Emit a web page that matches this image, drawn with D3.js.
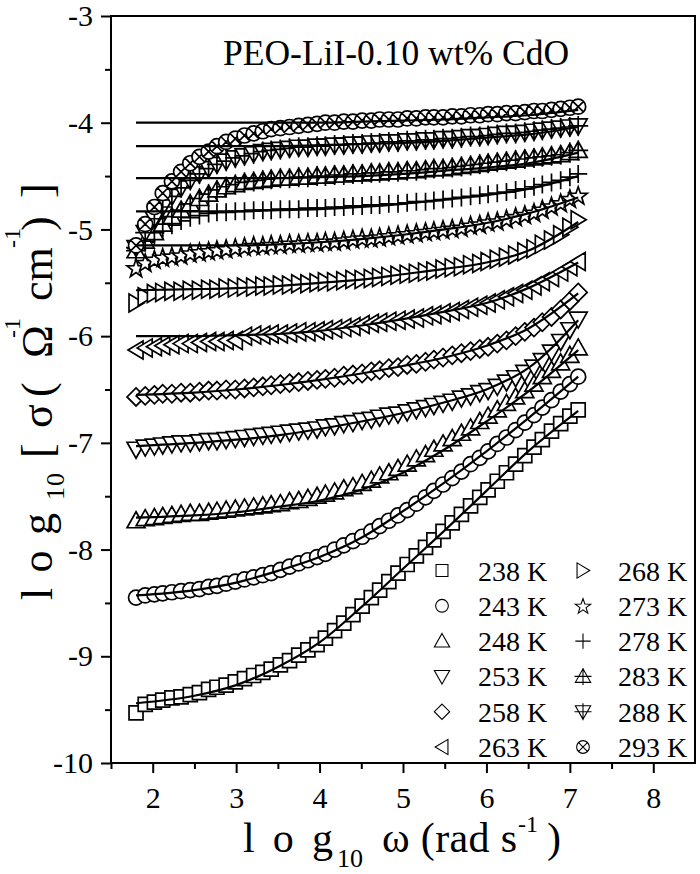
<!DOCTYPE html>
<html>
<head>
<meta charset="utf-8">
<script src="https://cdn.jsdelivr.net/npm/d3@7"></script>
<style>
  body { margin: 0; background: #fff; }
  svg { display: block; }
  text { font-family: "Liberation Serif", "Times New Roman", serif; fill: #000; }
</style>
</head>
<body>
<svg width="700" height="874"></svg>
<script>
// log10(omega) of each measured point
var logW = [1.80, 1.91, 2.02, 2.12, 2.23, 2.34, 2.45, 2.56, 2.67, 2.77,
            2.88, 2.99, 3.10, 3.21, 3.32, 3.42, 3.53, 3.64, 3.75, 3.86,
            3.97, 4.07, 4.18, 4.29, 4.40, 4.51, 4.62, 4.72, 4.83, 4.94,
            5.05, 5.16, 5.27, 5.37, 5.48, 5.59, 5.70, 5.81, 5.92, 6.02,
            6.13, 6.24, 6.35, 6.46, 6.57, 6.67, 6.78, 6.89, 7.00, 7.10];

var temps = ["238 K", "243 K", "248 K", "253 K", "258 K", "263 K",
             "268 K", "273 K", "278 K", "283 K", "288 K", "293 K"];
var shapes = ["square", "circle", "up", "down", "diamond", "left",
              "right", "star", "plus", "upplus", "downplus", "circlex"];

var s238 = [-9.53,-9.45,-9.43,-9.41,-9.39,-9.38,-9.36,-9.34,-9.31,-9.29,-9.27,-9.24,-9.21,-9.18,-9.15,-9.12,-9.08,-9.04,-8.99,-8.94,-8.89,-8.83,-8.76,-8.69,-8.61,-8.53,-8.45,-8.38,-8.30,-8.22,-8.14,-8.06,-7.98,-7.91,-7.83,-7.75,-7.67,-7.59,-7.51,-7.44,-7.36,-7.28,-7.20,-7.12,-7.04,-6.97,-6.89,-6.82,-6.75,-6.69];
var s243 = [-8.45,-8.43,-8.42,-8.41,-8.40,-8.39,-8.38,-8.37,-8.35,-8.34,-8.32,-8.30,-8.28,-8.26,-8.24,-8.22,-8.19,-8.16,-8.13,-8.10,-8.07,-8.04,-8.00,-7.96,-7.92,-7.88,-7.83,-7.78,-7.73,-7.68,-7.63,-7.57,-7.51,-7.45,-7.39,-7.33,-7.27,-7.20,-7.14,-7.08,-7.01,-6.95,-6.88,-6.81,-6.74,-6.67,-6.60,-6.52,-6.45,-6.38];
var s248 = [-7.73,-7.71,-7.70,-7.69,-7.68,-7.67,-7.66,-7.66,-7.65,-7.64,-7.63,-7.62,-7.61,-7.60,-7.59,-7.58,-7.57,-7.55,-7.54,-7.52,-7.50,-7.48,-7.46,-7.43,-7.41,-7.38,-7.35,-7.31,-7.28,-7.24,-7.20,-7.15,-7.11,-7.06,-7.01,-6.96,-6.91,-6.86,-6.80,-6.75,-6.69,-6.63,-6.57,-6.51,-6.45,-6.38,-6.32,-6.25,-6.18,-6.11];
var s253 = [-7.06,-7.04,-7.03,-7.02,-7.01,-7.00,-7.00,-6.99,-6.98,-6.98,-6.97,-6.96,-6.95,-6.94,-6.93,-6.92,-6.91,-6.90,-6.89,-6.88,-6.87,-6.85,-6.84,-6.82,-6.81,-6.79,-6.78,-6.76,-6.74,-6.73,-6.71,-6.69,-6.67,-6.65,-6.63,-6.61,-6.58,-6.56,-6.53,-6.51,-6.47,-6.43,-6.39,-6.34,-6.29,-6.23,-6.15,-6.05,-5.94,-5.84];
var s258 = [-6.57,-6.56,-6.55,-6.54,-6.54,-6.53,-6.53,-6.52,-6.51,-6.51,-6.50,-6.50,-6.49,-6.48,-6.47,-6.46,-6.45,-6.44,-6.43,-6.42,-6.41,-6.40,-6.39,-6.37,-6.36,-6.35,-6.33,-6.32,-6.30,-6.29,-6.27,-6.26,-6.24,-6.22,-6.20,-6.18,-6.16,-6.14,-6.12,-6.10,-6.07,-6.04,-6.00,-5.96,-5.92,-5.87,-5.82,-5.75,-5.67,-5.59];
var s263 = [-6.13,-6.11,-6.10,-6.09,-6.08,-6.07,-6.07,-6.06,-6.05,-6.05,-6.04,-6.04,-6.00,-5.99,-5.99,-5.98,-5.98,-5.97,-5.96,-5.96,-5.95,-5.94,-5.93,-5.92,-5.91,-5.89,-5.88,-5.87,-5.86,-5.85,-5.84,-5.83,-5.81,-5.80,-5.78,-5.77,-5.75,-5.73,-5.71,-5.69,-5.66,-5.63,-5.60,-5.57,-5.53,-5.49,-5.45,-5.40,-5.35,-5.30];
var s268 = [-5.69,-5.63,-5.60,-5.59,-5.58,-5.58,-5.57,-5.57,-5.56,-5.56,-5.55,-5.55,-5.54,-5.54,-5.53,-5.53,-5.52,-5.52,-5.51,-5.51,-5.50,-5.49,-5.49,-5.48,-5.47,-5.47,-5.46,-5.45,-5.44,-5.43,-5.42,-5.41,-5.40,-5.39,-5.37,-5.36,-5.35,-5.33,-5.32,-5.30,-5.28,-5.26,-5.24,-5.21,-5.18,-5.14,-5.10,-5.05,-4.98,-4.91];
var s273 = [-5.36,-5.31,-5.28,-5.26,-5.25,-5.24,-5.22,-5.21,-5.20,-5.19,-5.18,-5.17,-5.16,-5.15,-5.15,-5.14,-5.14,-5.13,-5.13,-5.12,-5.12,-5.11,-5.11,-5.10,-5.09,-5.08,-5.08,-5.07,-5.06,-5.05,-5.04,-5.03,-5.02,-5.01,-5.00,-4.99,-4.98,-4.96,-4.95,-4.93,-4.92,-4.90,-4.88,-4.86,-4.84,-4.81,-4.78,-4.75,-4.71,-4.68];
var s278 = [-5.18,-5.12,-5.06,-5.01,-4.96,-4.92,-4.89,-4.87,-4.85,-4.84,-4.84,-4.83,-4.83,-4.82,-4.82,-4.82,-4.81,-4.81,-4.81,-4.80,-4.80,-4.80,-4.79,-4.79,-4.78,-4.78,-4.77,-4.77,-4.76,-4.76,-4.75,-4.74,-4.74,-4.73,-4.72,-4.71,-4.70,-4.69,-4.68,-4.67,-4.66,-4.65,-4.63,-4.62,-4.60,-4.58,-4.56,-4.54,-4.51,-4.48];
var s283 = [-5.20,-5.11,-5.03,-4.95,-4.88,-4.82,-4.76,-4.71,-4.67,-4.63,-4.60,-4.58,-4.56,-4.55,-4.54,-4.53,-4.52,-4.52,-4.51,-4.51,-4.50,-4.50,-4.49,-4.49,-4.48,-4.48,-4.47,-4.47,-4.46,-4.46,-4.45,-4.45,-4.44,-4.43,-4.43,-4.42,-4.41,-4.40,-4.39,-4.38,-4.37,-4.36,-4.35,-4.34,-4.33,-4.32,-4.31,-4.30,-4.28,-4.26];
var s288 = [-5.17,-5.03,-4.90,-4.79,-4.69,-4.61,-4.54,-4.48,-4.43,-4.39,-4.36,-4.33,-4.31,-4.29,-4.27,-4.26,-4.25,-4.24,-4.23,-4.23,-4.22,-4.22,-4.21,-4.21,-4.20,-4.20,-4.19,-4.19,-4.18,-4.18,-4.17,-4.17,-4.16,-4.16,-4.15,-4.15,-4.14,-4.13,-4.13,-4.12,-4.11,-4.10,-4.10,-4.09,-4.08,-4.07,-4.06,-4.05,-4.04,-4.03];
var s293 = [-5.15,-4.95,-4.79,-4.66,-4.55,-4.46,-4.38,-4.32,-4.27,-4.22,-4.18,-4.15,-4.12,-4.10,-4.08,-4.06,-4.05,-4.04,-4.03,-4.02,-4.01,-4.00,-4.00,-3.99,-3.99,-3.98,-3.98,-3.97,-3.97,-3.97,-3.96,-3.96,-3.95,-3.95,-3.95,-3.94,-3.94,-3.93,-3.93,-3.92,-3.92,-3.91,-3.91,-3.90,-3.89,-3.89,-3.88,-3.87,-3.86,-3.85];
var series = [s238, s243, s248, s253, s258, s263, s268, s273, s278, s283, s288, s293];

// fitted curves, read at these log10(omega) knots
var fitW = [1.8, 2.5, 3.0, 3.5, 4.0, 4.5, 5.0, 5.5, 6.0, 6.5, 7.1];
var f238 = [-9.44,-9.37,-9.27,-9.10,-8.87,-8.54,-8.18,-7.82,-7.45,-7.08,-6.70];
var f243 = [-8.43,-8.38,-8.31,-8.20,-8.07,-7.89,-7.64,-7.37,-7.08,-6.77,-6.38];
var f248 = [-7.70,-7.68,-7.65,-7.60,-7.54,-7.44,-7.28,-7.06,-6.80,-6.52,-6.13];
var f253 = [-7.03,-7.00,-6.97,-6.93,-6.87,-6.80,-6.72,-6.62,-6.50,-6.30,-5.85];
var f258 = [-6.55,-6.53,-6.50,-6.46,-6.41,-6.35,-6.28,-6.20,-6.09,-5.93,-5.60];
var f263 = [-6.00,-6.00,-5.99,-5.98,-5.95,-5.90,-5.84,-5.77,-5.69,-5.55,-5.31];
var f268 = [-5.57,-5.56,-5.55,-5.53,-5.50,-5.47,-5.42,-5.37,-5.31,-5.20,-4.93];
var f273 = [-5.15,-5.15,-5.15,-5.14,-5.12,-5.09,-5.05,-5.00,-4.94,-4.85,-4.70];
var f278 = [-4.83,-4.83,-4.83,-4.82,-4.81,-4.79,-4.76,-4.72,-4.68,-4.62,-4.50];
var f283 = [-4.52,-4.52,-4.52,-4.52,-4.51,-4.50,-4.48,-4.45,-4.42,-4.38,-4.28];
var f288 = [-4.22,-4.22,-4.22,-4.22,-4.21,-4.20,-4.19,-4.17,-4.14,-4.11,-4.04];
var f293 = [-4.00,-4.00,-4.00,-4.00,-4.00,-3.99,-3.98,-3.97,-3.95,-3.93,-3.88];
var fits = [f238, f243, f248, f253, f258, f263, f268, f273, f278, f283, f288, f293];

var xTicks = [2, 3, 4, 5, 6, 7, 8];
var xMinor = [1.5, 2.5, 3.5, 4.5, 5.5, 6.5, 7.5];
var yTicks = [-10, -9, -8, -7, -6, -5, -4, -3];
var yMinor = [-9.5, -8.5, -7.5, -6.5, -5.5, -4.5, -3.5];

var svg = d3.select("svg");
var plotL = 111, plotR = 695, plotT = 16, plotB = 763;

var x = d3.scaleLinear().domain([1.5, 8.5]).range([plotL, plotR]);
var y = d3.scaleLinear().domain([-10, -3]).range([plotB, plotT]);

function shapePath(type, k) {
    var s = k || 1;
    function circ(r) { return "M" + r + ",0A" + r + "," + r + " 0 1,1 " + (-r) + ",0A" + r + "," + r + " 0 1,1 " + r + ",0Z"; }
    switch (type) {
        case "square": return "M" + (-7*s) + "," + (-7*s) + "H" + (7*s) + "V" + (7*s) + "H" + (-7*s) + "Z";
        case "circle": return circ(7.5*s);
        case "up": return "M0," + (-9*s) + "L" + (9*s) + "," + (7*s) + "L" + (-9*s) + "," + (7*s) + "Z";
        case "down": return "M0," + (9*s) + "L" + (9*s) + "," + (-7*s) + "L" + (-9*s) + "," + (-7*s) + "Z";
        case "left": return "M" + (-8*s) + ",0L" + (7*s) + "," + (-9*s) + "L" + (7*s) + "," + (9*s) + "Z";
        case "right": return "M" + (8*s) + ",0L" + (-7*s) + "," + (-9*s) + "L" + (-7*s) + "," + (9*s) + "Z";
        case "diamond": return "M0," + (-9*s) + "L" + (9*s) + ",0L0," + (9*s) + "L" + (-9*s) + ",0Z";
        case "star":
            var p = [];
            for (var i = 0; i < 10; i++) {
                var r = (i % 2 ? 3.8 : 9.5) * s, a = -Math.PI / 2 + i * Math.PI / 5;
                p.push((r * Math.cos(a)).toFixed(2) + "," + (r * Math.sin(a) + 1 * s).toFixed(2));
            }
            return "M" + p.join("L") + "Z";
        case "plus": return "M" + (-9*s) + ",0H" + (9*s) + "M0," + (-9*s) + "V" + (9*s);
        case "upplus": return "M0," + (-9*s) + "L" + (9*s) + "," + (7*s) + "L" + (-9*s) + "," + (7*s) + "Z" +
            "M0," + (-10*s) + "V" + (10*s) + "M" + (-10*s) + ",0H" + (10*s);
        case "downplus": return "M0," + (9*s) + "L" + (9*s) + "," + (-7*s) + "L" + (-9*s) + "," + (-7*s) + "Z" +
            "M0," + (10*s) + "V" + (-10*s) + "M" + (-10*s) + ",0H" + (10*s);
        case "circlex": var d = 5.4*s;
            return circ(7.5*s) + "M" + (-d) + "," + (-d) + "L" + d + "," + d + "M" + (-d) + "," + d + "L" + d + "," + (-d);
    }
}

// markers
series.forEach(function(vals, si) {
    svg.append("g")
        .selectAll("path")
        .data(vals)
        .enter()
        .append("path")
        .attr("transform", function(d, i) { return "translate(" + x(logW[i]) + "," + y(d) + ")"; })
        .attr("d", shapePath(shapes[si]))
        .attr("fill", "#fff")
        .attr("stroke", "#000")
        .attr("stroke-width", 1.7);
});

// fit lines
var line = d3.line()
    .x(function(d) { return x(d[0]); })
    .y(function(d) { return y(d[1]); })
    .curve(d3.curveMonotoneX);

fits.forEach(function(vals) {
    svg.append("path")
        .attr("d", line(vals.map(function(v, i) { return [fitW[i], v]; })))
        .attr("fill", "none")
        .attr("stroke", "#000")
        .attr("stroke-width", 2.2);
});

// frame
svg.append("rect")
    .attr("x", plotL).attr("y", plotT)
    .attr("width", plotR - plotL).attr("height", plotB - plotT)
    .attr("fill", "none").attr("stroke", "#000").attr("stroke-width", 2);

// axes (plain hyphen for the minus, as in the original)
var fmt = function(d) { return String(d); };
var gx = svg.append("g").attr("transform", "translate(0," + plotB + ")")
    .call(d3.axisBottom(x).tickValues(xTicks).tickSize(10).tickPadding(14).tickFormat(fmt));
var gxm = svg.append("g").attr("transform", "translate(0," + plotB + ")")
    .call(d3.axisBottom(x).tickValues(xMinor).tickSize(6).tickFormat(""));
var gy = svg.append("g").attr("transform", "translate(" + plotL + ",0)")
    .call(d3.axisLeft(y).tickValues(yTicks).tickSize(10).tickPadding(8).tickFormat(fmt));
var gym = svg.append("g").attr("transform", "translate(" + plotL + ",0)")
    .call(d3.axisLeft(y).tickValues(yMinor).tickSize(6).tickFormat(""));

[gx, gxm, gy, gym].forEach(function(g) {
    g.select(".domain").remove();
    g.selectAll("line").attr("stroke", "#000").attr("stroke-width", 2);
    g.selectAll("text")
        .style("font-family", "'Liberation Serif', 'Times New Roman', serif")
        .style("font-size", "30px").attr("fill", "#000");
});

// title inside plot
svg.append("text")
    .attr("x", 223).attr("y", 65)
    .attr("font-size", 35.5)
    .text("PEO-LiI-0.10 wt% CdO");

// legend
var legX = [442, 583], legTX = [478, 618];
temps.forEach(function(t, i) {
    var col = Math.floor(i / 6), row = i % 6;
    var cy = 570.5 + row * 35.3;
    svg.append("path")
        .attr("transform", "translate(" + legX[col] + "," + cy + ")")
        .attr("d", shapePath(shapes[i], 0.85))
        .attr("fill", "none").attr("stroke", "#000").attr("stroke-width", 1.1);
    svg.append("text")
        .attr("x", legTX[col]).attr("y", cy + 10)
        .attr("font-size", 28)
        .text(t);
});

// axis titles built from pieces
function piece(g, txt, px, py, size, len) {
    var t = g.append("text").attr("x", px).attr("y", py).attr("font-size", size).text(txt);
    if (len) t.attr("textLength", len).attr("lengthAdjust", "spacing");
    return t;
}
var xt = svg.append("g");
piece(xt, "l o g", 243, 852, 42, 90);
piece(xt, "1 0", 337, 867, 26, 26);
piece(xt, "\u03c9 (rad s", 382, 852, 42, 135);
piece(xt, "-1", 518, 832, 24);
piece(xt, ")", 547, 852, 42);

// y axis title, reading upward
var yt = svg.append("g").attr("transform", "translate(52,0) rotate(-90)");
piece(yt, "l o g", -600, 0, 44, 87);
piece(yt, "1 0", -500, 12, 26, 27);
piece(yt, "[", -458, 0, 44);
piece(yt, "\u03c3", -428, 0, 44);
piece(yt, "(", -397, 0, 44);
piece(yt, "\u03a9", -358, 0, 44);
piece(yt, "-1", -338, -32, 24);
piece(yt, "cm", -301, 0, 44);
piece(yt, "-1", -248, -32, 24);
piece(yt, ")", -231, 0, 44);
piece(yt, "]", -198, 0, 44);
</script>
</body>
</html>
